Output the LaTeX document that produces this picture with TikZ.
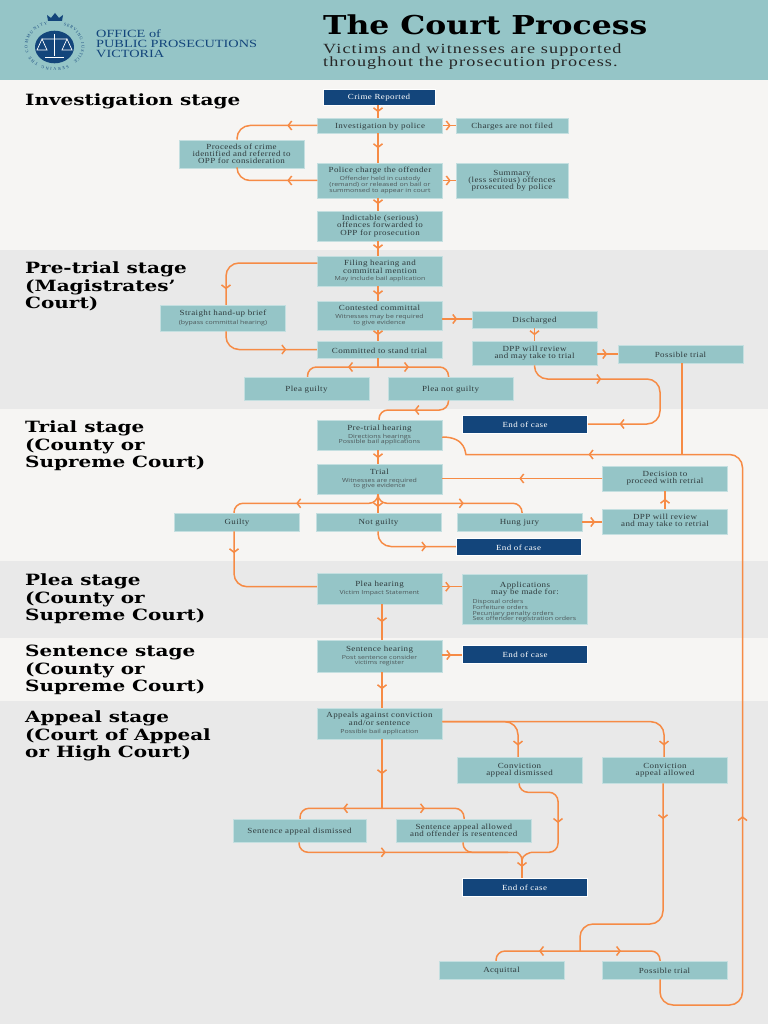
\documentclass[tikz,border=0pt]{standalone}
\usepackage{fontspec}
\setmainfont[FakeStretch=1.15,LetterSpace=5]{Liberation Serif}
\newfontfamily\titlefam[FakeStretch=1.21]{DejaVu Serif}
\newfontfamily\headfam[FakeStretch=1.29]{DejaVu Serif}
\newfontfamily\subfam[FakeStretch=1.25]{Open Sans}
\newfontfamily\officefam[FakeStretch=1.3]{Liberation Serif}
\newfontfamily\ringfam{Liberation Serif}
\newfontfamily\slabwide[FakeStretch=1.3,LetterSpace=8]{Liberation Serif}
\usetikzlibrary{arrows.meta}
\usetikzlibrary{decorations.markings}
\usetikzlibrary{decorations.text}
\definecolor{tealfill}{HTML}{95C5C7}
\definecolor{tealedge}{HTML}{C4DFE0}
\definecolor{navyfill}{HTML}{13457B}
\definecolor{flowline}{HTML}{F68B45}
\definecolor{lightband}{HTML}{F6F5F3}
\definecolor{greyband}{HTML}{E9E9E9}
\definecolor{bodyink}{HTML}{2F3B3D}
\newcommand{\subfont}{\subfam\fontsize{5.6}{7}\selectfont\color{bodyink!85}}
\newcommand{\subtxt}[1]{{\subfont #1}}
\tikzset{
  procbox/.style={fill=tealfill, draw=tealedge, line width=.5pt, text=bodyink, inner sep=0pt, minimum width=125pt, align=center, font=\fontsize{7.8}{7.2}\selectfont, execute at begin node={\rule{0pt}{7.5pt}}},
  endbox/.style={procbox, fill=navyfill, draw=white, text=white},
  headtxt/.style={anchor=north west, inner sep=0pt, align=left, text=black, font=\headfam\bfseries\fontsize{15.5}{17.5}\selectfont},
  flow/.style={draw=flowline, line width=1.5pt, rounded corners=13pt},
  tipat/.style={postaction={decorate, decoration={markings, mark=at position #1 with {\arrow{Straight Barb[length=3.5pt,width=9pt]}}}}},
}
\begin{document}
\begin{tikzpicture}[x=1pt,y=-1pt]
\useasboundingbox (0,0) rectangle (768,1024);
\fill[lightband] (0,80) rectangle (768,1024);
\foreach \ya/\yb in {250/409, 561/638, 701/1024}
  \fill[greyband] (0,\ya) rectangle (768,\yb);
\fill[tealfill] (0,0) rectangle (768,80);

\fill[navyfill] (54.5,47) ellipse [x radius=19.5, y radius=16.3];
\draw[white, line width=1pt] (54.5,34) -- (54.5,56) (45,58) -- (64,58);
\draw[white, line width=.7pt] (42,39) -- (67,39) (42,39) -- (37,50) -- (47,50) -- cycle (67,39) -- (62,50) -- (72,50) -- cycle;
\fill[navyfill] (48,21) -- (47,15) -- (51,18) -- (55,13) -- (59,18) -- (63,15) -- (62,21) -- cycle;
\path[decorate, decoration={text along path, text align={fit to path}, text={|\color{navyfill}\ringfam\fontsize{4.2}{4}\selectfont|SERVING THE COMMUNITY}}] (54.5,46) ++(60:27 and 22) arc [start angle=60, end angle=255, x radius=27, y radius=22];
\path[decorate, decoration={text along path, text align={fit to path}, text={|\color{navyfill}\ringfam\fontsize{4.2}{4}\selectfont|SERVING JUSTICE}}] (54.5,46) ++(290:27 and 22) arc [start angle=290, end angle=405, x radius=27, y radius=22];
\node[anchor=north west, inner sep=0pt, align=left, text=navyfill, font=\officefam\fontsize{11}{10}\selectfont] (office) at (96,30) {OFFICE of\\PUBLIC PROSECUTIONS\\VICTORIA};
\node[anchor=base west, inner sep=0pt, text=black, font=\titlefam\bfseries\fontsize{26}{30}\selectfont] (title) at (323,35) {The Court Process};
\node[anchor=north west, inner sep=0pt, align=left, text=black!85, font=\slabwide\fontsize{14}{13}\selectfont] (subtitle) at (323,44) {Victims and witnesses are supported\\throughout the prosecution process.};

\node[headtxt] (stageinv) at (25,94) {Investigation stage};
\node[headtxt] (stagepre) at (25,262) {Pre-trial stage\\(Magistrates’\\Court)};
\node[headtxt] (stagetrial) at (25,421) {Trial stage\\(County or\\Supreme Court)};
\node[headtxt] (stageplea) at (25,574) {Plea stage\\(County or\\Supreme Court)};
\node[headtxt] (stagesent) at (25,645) {Sentence stage\\(County or\\Supreme Court)};
\node[headtxt] (stageappeal) at (25,711) {Appeal stage\\(Court of Appeal\\or High Court)};

\node[endbox, minimum width=112pt, minimum height=16pt] (crime) at (379,97) {Crime Reported};
\node[procbox, minimum height=15pt] (invest) at (380,125.5) {Investigation by police};
\node[procbox, minimum width=112pt, minimum height=15pt] (charges) at (512,125.5) {Charges are not filed};
\node[procbox, minimum height=28pt] (proceeds) at (241.5,154) {Proceeds of crime\\identified and referred to\\OPP for consideration};
\node[procbox, minimum height=35pt] (police) at (380,180.5) {Police charge the offender\\[1pt]\subtxt{Offender held in custody}\\[-1.5pt]\subtxt{(remand) or released on bail or}\\[-1.5pt]\subtxt{summonsed to appear in court}};
\node[procbox, minimum width=112pt, minimum height=35pt] (summary) at (512,180.5) {Summary\\(less serious) offences\\prosecuted by police};
\node[procbox, minimum height=30pt] (indictable) at (380,226) {Indictable (serious)\\offences forwarded to\\OPP for prosecution};

\node[procbox, minimum height=30pt] (filing) at (380,271) {Filing hearing and\\committal mention\\\subtxt{May include bail application}};
\node[procbox, minimum height=29pt] (contested) at (379.5,315.5) {Contested committal\\[1pt]\subtxt{Witnesses may be required}\\[-1.5pt]\subtxt{to give evidence}};
\node[procbox, minimum height=26pt] (brief) at (223,318) {Straight hand-up brief\\[1pt]\subtxt{(bypass committal hearing)}};
\node[procbox, minimum height=17pt] (committed) at (379.5,349.5) {Committed to stand trial};
\node[procbox, minimum height=17pt] (discharged) at (534.5,319.5) {Discharged};
\node[procbox, minimum height=24pt] (dpp) at (534.5,353) {DPP will review\\and may take to trial};
\node[procbox, minimum height=18pt] (possible) at (680.5,354) {Possible trial};
\node[procbox, minimum height=23pt] (pleaguilty) at (306.5,388.5) {Plea guilty};
\node[procbox, minimum height=23pt] (pleanot) at (450.5,388.5) {Plea not guilty};

\node[endbox, minimum height=18pt] (endreview) at (525,424) {End of case};
\node[procbox, minimum height=30pt] (pretrial) at (379.5,435) {Pre-trial hearing\\[1pt]\subtxt{Directions hearings}\\[-1.5pt]\subtxt{Possible bail applications}};
\node[procbox, minimum height=30pt] (trial) at (379.5,479) {Trial\\[1pt]\subtxt{Witnesses are required}\\[-1.5pt]\subtxt{to give evidence}};
\node[procbox, minimum height=25pt] (decision) at (665,478.5) {Decision to\\proceed with retrial};
\node[procbox, minimum height=18pt] (guilty) at (237,522) {Guilty};
\node[procbox, minimum height=18pt] (notguilty) at (378.5,522) {Not guilty};
\node[procbox, minimum height=18pt] (hungjury) at (519.5,522) {Hung jury};
\node[procbox, minimum height=25pt] (retrialreview) at (665,521.5) {DPP will review\\and may take to retrial};
\node[endbox, minimum height=17pt] (endacquit) at (518.5,546.5) {End of case};

\node[procbox, minimum height=31pt] (pleahearing) at (379.5,588.5) {Plea hearing\\[1pt]\subtxt{Victim Impact Statement}};
\node[procbox, minimum height=50pt] (applications) at (525,599) {\rule{0pt}{11.5pt}Applications\\may be made for:\\[2pt]\subtxt{\makebox[105pt][l]{Disposal orders}}\\[-1.5pt]\subtxt{\makebox[105pt][l]{Forfeiture orders}}\\[-1.5pt]\subtxt{\makebox[105pt][l]{Pecuniary penalty orders}}\\[-1.5pt]\subtxt{\makebox[105pt][l]{Sex offender registration orders}}};
\node[procbox, minimum height=32pt] (sentencehearing) at (379.5,656) {Sentence hearing\\[1pt]\subtxt{Post sentence consider}\\[-1.5pt]\subtxt{victims register}};
\node[endbox, minimum height=18pt] (endsentence) at (525,654) {End of case};

\node[procbox, minimum height=31pt] (appeals) at (379.5,723.5) {Appeals against conviction\\and/or sentence\\[1pt]\subtxt{Possible bail application}};
\node[procbox, minimum height=26pt] (convdismissed) at (519.5,770) {Conviction\\appeal dismissed};
\node[procbox, minimum height=26pt] (convallowed) at (665,770) {Conviction\\appeal allowed};
\node[procbox, minimum width=133pt, minimum height=23pt] (sentdismissed) at (299.5,830.5) {Sentence appeal dismissed};
\node[procbox, minimum width=134.5pt, minimum height=23pt] (sentallowed) at (463.75,830.5) {Sentence appeal allowed\\and offender is resentenced};
\node[endbox, minimum height=18pt] (endappeal) at (524.5,887) {End of case};
\node[procbox, minimum height=18pt] (acquittal) at (501.5,970) {Acquittal};
\node[procbox, minimum height=18pt] (possibleretrial) at (664.5,970) {Possible trial};

\draw[flow, tipat=7pt] (378,0 |- crime.south) -- (378,0 |- invest.north);
\draw[flow, tipat=15pt] (378,0 |- invest.south) -- (378,0 |- police.north);
\draw[flow, tipat=6pt] (378,0 |- police.south) -- (378,0 |- indictable.north);
\draw[flow, tipat=8pt] (378,0 |- indictable.south) -- (378,0 |- filing.north);
\draw[flow, tipat=30pt] (invest.west) -| (237,0 |- proceeds.north);
\draw[flow, tipat=30pt] (police.west) -| (237,0 |- proceeds.south);
\draw[flow, tipat=8pt] (invest.east) -- (charges.west);
\draw[flow, tipat=8pt] (police.east) -- (summary.west);

\draw[flow, tipat=112pt] (filing.west |- 0,263) -| (226,0 |- brief.north);
\draw[flow, tipat=73pt] (226,0 |- brief.south) |- (committed.west);
\draw[flow, tipat=9pt] (378,0 |- filing.south) -- (378,0 |- contested.north);
\draw[flow, tipat=5pt] (378,0 |- contested.south) -- (378,0 |- committed.north);
\draw[flow, tipat=15pt] (contested.east |- 0,319) -- (discharged.west |- 0,319);
\draw[flow, tipat=7pt] (discharged.south) -- (dpp.north);
\draw[flow, tipat=10pt] (dpp.east |- possible.west) -- (possible.west);
\draw[flow] (378,0 |- committed.south) -- (378,367) coordinate (pleafork);
\draw[flow, rounded corners=9pt, tipat=30pt] (pleafork) -| (307.5,0 |- pleaguilty.north);
\draw[flow, rounded corners=9pt, tipat=31pt] (pleafork) -| (448.5,0 |- pleanot.north);
\draw[flow, rounded corners=9pt, tipat=40pt] (448.5,0 |- pleanot.south) |- (379,410) -- (379,0 |- pretrial.north);
\draw[flow, tipat=75pt, tipat=208pt] (dpp.south) |- (660,379) |- (endreview.east);
\draw[flow] (682,0 |- possible.south) -- (682,454.5);
\draw[flow, tipat=286pt, tipat=796pt] (660,0 |- possibleretrial.south) |- (742.5,1005) -- (742.5,454.5) -- (479,454.5) .. controls (465,454.5) and (467,437) .. (pretrial.east |- 0,437);

\draw[flow, tipat=8pt] (378,0 |- pretrial.south) -- (378,0 |- trial.north);
\draw[flow, tipat=13pt] (378,0 |- trial.south) -- (378,0 |- notguilty.north);
\draw[flow, rounded corners=9pt, tipat=87pt] (378,0 |- trial.south) |- (234,503.3) -- (234,0 |- guilty.north);
\draw[flow, rounded corners=9pt, tipat=91pt] (378,0 |- trial.south) |- (522,503.3) -- (522,0 |- hungjury.north);
\draw[flow, tipat=83pt] (decision.west) -- (decision.west -| trial.east);
\draw[flow, tipat=13pt] (hungjury.east) -- (hungjury.east -| retrialreview.west);
\draw[flow, tipat=10pt] (retrialreview.north) -- (decision.south);
\draw[flow, tipat=58pt] (378,0 |- notguilty.south) |- (endacquit.west);

\draw[flow, tipat=22pt] (234,0 |- guilty.south) |- (pleahearing.west |- 0,586.7);
\draw[flow, tipat=8pt] (pleahearing.east |- 0,586.7) -- (applications.west |- 0,586.7);
\draw[flow, tipat=18pt] (382,0 |- pleahearing.south) -- (382,0 |- sentencehearing.north);
\draw[flow, tipat=9pt] (sentencehearing.east |- 0,655) -- (endsentence.west |- 0,655);
\draw[flow, tipat=17pt] (382,0 |- sentencehearing.south) -- (382,0 |- appeals.north);

\draw[flow, tipat=94pt] (appeals.east |- 0,721.7) -| (518,0 |- convdismissed.north);
\draw[flow, tipat=240pt] (appeals.east |- 0,721.7) -| (664,0 |- convallowed.north);
\draw[flow, tipat=35pt] (382,0 |- appeals.south) -- (382,808.3) coordinate (sentfork);
\draw[flow, rounded corners=9pt, tipat=39pt] (sentfork) -| (300,0 |- sentdismissed.north);
\draw[flow, rounded corners=9pt, tipat=43pt] (sentfork) -| (464,0 |- sentallowed.north);
\coordinate (endjoin) at (522,860);
\draw[flow, tipat=7pt] (endjoin) -- (522,0 |- endappeal.north);
\draw[flow, rounded corners=9pt, tipat=93pt] (299,0 |- sentdismissed.south) |- (508,852.3) .. controls (517,852.3) and (522,855) .. (endjoin);
\draw[flow, rounded corners=9pt] (463,0 |- sentallowed.south) |- (508,852.3);
\draw[flow, rounded corners=9pt, tipat=71pt] (519,0 |- convdismissed.south) |- (558,792.3) -- (558,852.3) -- (541,852.3) .. controls (530,852.3) and (522,855) .. (endjoin);
\draw[flow, tipat=36pt] (663,0 |- convallowed.south) |- (580,924) -- (580,951) coordinate (retrialfork);
\draw[flow, rounded corners=9pt, tipat=41pt] (retrialfork) -| (496,0 |- acquittal.north);
\draw[flow, rounded corners=9pt, tipat=41pt] (retrialfork) -| (660,0 |- possibleretrial.north);
\end{tikzpicture}
\end{document}
